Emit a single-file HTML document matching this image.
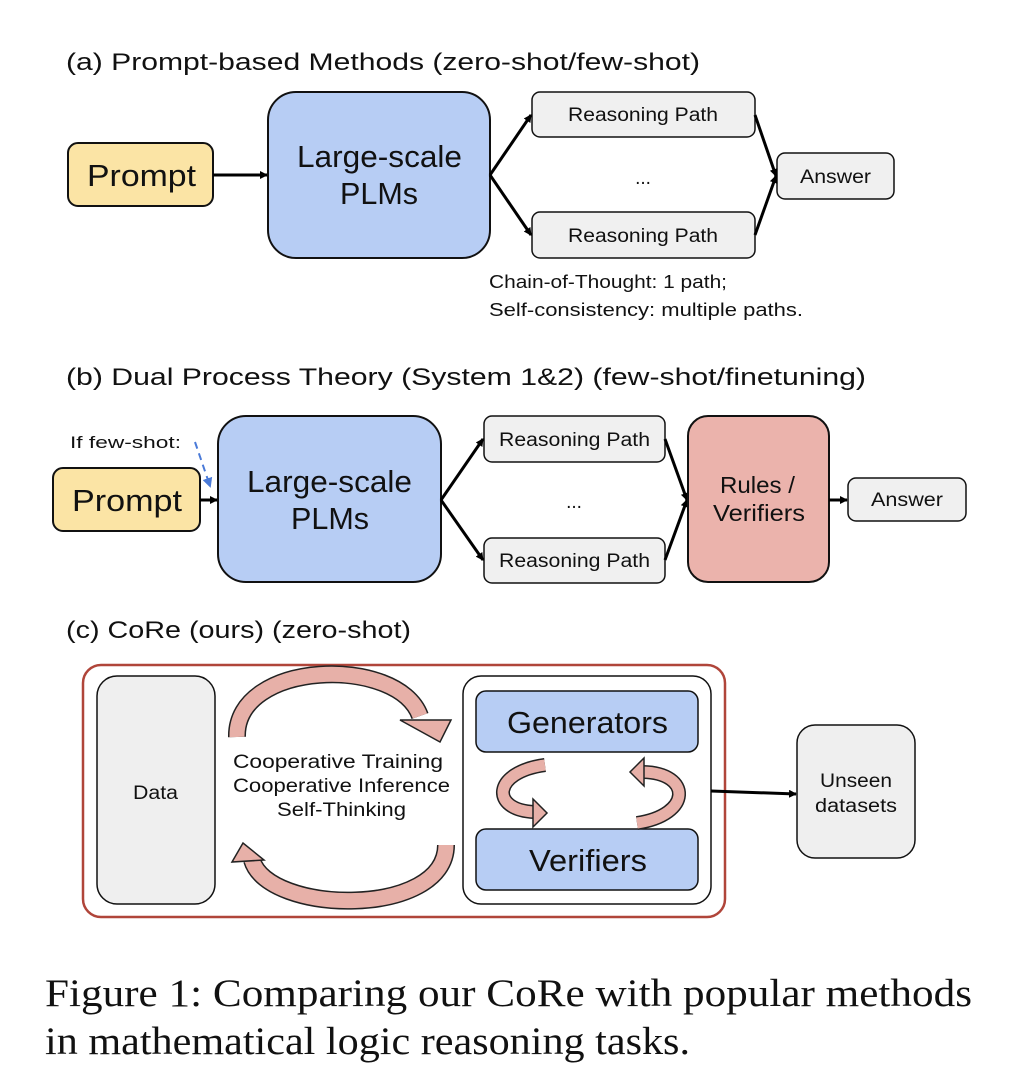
<!DOCTYPE html>
<html><head><meta charset="utf-8"><style>
html,body{margin:0;padding:0;background:#fff;}
svg{display:block;}
text{font-family:"Liberation Sans","DejaVu Sans",sans-serif;fill:#111;}
.s{font-family:"Liberation Serif",serif;}
</style></head><body>
<svg width="1010" height="1092" viewBox="0 0 1010 1092" xmlns="http://www.w3.org/2000/svg">
<defs>
<marker id="ah" markerWidth="8" markerHeight="8" refX="7" refY="4" orient="auto" markerUnits="userSpaceOnUse"><path d="M0,0 L8,4 L0,8 z" fill="#000"/></marker>
<marker id="ab" markerWidth="10" markerHeight="10" refX="8" refY="5" orient="auto" markerUnits="userSpaceOnUse"><path d="M0,0 L10,5 L0,10 z" fill="#4a7ad8"/></marker>
</defs>
<!-- (a) -->
<text x="66" y="70" font-size="24" textLength="634" lengthAdjust="spacingAndGlyphs">(a) Prompt-based Methods (zero-shot/few-shot)</text>
<rect x="68" y="143" width="145" height="63" rx="10" fill="#fbe4a5" stroke="#111" stroke-width="2"/>
<text x="87" y="186" font-size="31" textLength="109" lengthAdjust="spacingAndGlyphs">Prompt</text>
<line x1="213" y1="175" x2="267" y2="175" stroke="#000" stroke-width="3" marker-end="url(#ah)"/>
<rect x="268" y="92" width="222" height="166" rx="28" fill="#b7cdf4" stroke="#111" stroke-width="2"/>
<text x="297" y="167" font-size="31" textLength="165" lengthAdjust="spacingAndGlyphs">Large-scale</text>
<text x="340" y="204" font-size="31" textLength="78" lengthAdjust="spacingAndGlyphs">PLMs</text>
<rect x="532" y="92" width="223" height="45" rx="8" fill="#f0f0f0" stroke="#111" stroke-width="1.5"/>
<text x="568" y="121" font-size="19" textLength="150" lengthAdjust="spacingAndGlyphs">Reasoning Path</text>
<rect x="532" y="212" width="223" height="46" rx="8" fill="#f0f0f0" stroke="#111" stroke-width="1.5"/>
<text x="568" y="242" font-size="19" textLength="150" lengthAdjust="spacingAndGlyphs">Reasoning Path</text>
<text x="643" y="184" font-size="19" text-anchor="middle">...</text>
<rect x="777" y="153" width="117" height="46" rx="8" fill="#f0f0f0" stroke="#111" stroke-width="1.5"/>
<text x="800" y="183" font-size="19" textLength="71" lengthAdjust="spacingAndGlyphs">Answer</text>
<line x1="490" y1="175" x2="531" y2="115" stroke="#000" stroke-width="3" marker-end="url(#ah)"/>
<line x1="490" y1="175" x2="531" y2="235" stroke="#000" stroke-width="3" marker-end="url(#ah)"/>
<line x1="755" y1="115" x2="776" y2="176" stroke="#000" stroke-width="3" marker-end="url(#ah)"/>
<line x1="755" y1="235" x2="776" y2="176" stroke="#000" stroke-width="3" marker-end="url(#ah)"/>
<text x="489" y="288" font-size="18" textLength="238" lengthAdjust="spacingAndGlyphs">Chain-of-Thought: 1 path;</text>
<text x="489" y="316" font-size="18" textLength="314" lengthAdjust="spacingAndGlyphs">Self-consistency: multiple paths.</text>
<!-- (b) -->
<text x="66" y="385" font-size="24" textLength="800" lengthAdjust="spacingAndGlyphs">(b) Dual Process Theory (System 1&amp;2) (few-shot/finetuning)</text>
<text x="70" y="448" font-size="17" textLength="111" lengthAdjust="spacingAndGlyphs">If few-shot:</text>
<line x1="195" y1="442" x2="210" y2="486" stroke="#4a7ad8" stroke-width="2" stroke-dasharray="7,5" marker-end="url(#ab)"/>
<rect x="53" y="468" width="147" height="63" rx="10" fill="#fbe4a5" stroke="#111" stroke-width="2"/>
<text x="72" y="511" font-size="31" textLength="110" lengthAdjust="spacingAndGlyphs">Prompt</text>
<line x1="200" y1="500" x2="217" y2="500" stroke="#000" stroke-width="3" marker-end="url(#ah)"/>
<rect x="218" y="416" width="223" height="166" rx="28" fill="#b7cdf4" stroke="#111" stroke-width="2"/>
<text x="247" y="492" font-size="31" textLength="165" lengthAdjust="spacingAndGlyphs">Large-scale</text>
<text x="291" y="529" font-size="31" textLength="78" lengthAdjust="spacingAndGlyphs">PLMs</text>
<rect x="484" y="416" width="181" height="46" rx="8" fill="#f0f0f0" stroke="#111" stroke-width="1.5"/>
<text x="499" y="446" font-size="19" textLength="151" lengthAdjust="spacingAndGlyphs">Reasoning Path</text>
<rect x="484" y="538" width="181" height="45" rx="8" fill="#f0f0f0" stroke="#111" stroke-width="1.5"/>
<text x="499" y="567" font-size="19" textLength="151" lengthAdjust="spacingAndGlyphs">Reasoning Path</text>
<text x="574" y="508" font-size="19" text-anchor="middle">...</text>
<line x1="441" y1="500" x2="483" y2="439" stroke="#000" stroke-width="3" marker-end="url(#ah)"/>
<line x1="441" y1="500" x2="483" y2="560" stroke="#000" stroke-width="3" marker-end="url(#ah)"/>
<line x1="665" y1="439" x2="687" y2="500" stroke="#000" stroke-width="3" marker-end="url(#ah)"/>
<line x1="665" y1="560" x2="687" y2="500" stroke="#000" stroke-width="3" marker-end="url(#ah)"/>
<rect x="688" y="416" width="141" height="166" rx="20" fill="#ebb3ac" stroke="#111" stroke-width="2"/>
<text x="720" y="493" font-size="23" textLength="75" lengthAdjust="spacingAndGlyphs">Rules /</text>
<text x="713" y="521" font-size="23" textLength="92" lengthAdjust="spacingAndGlyphs">Verifiers</text>
<line x1="829" y1="500" x2="847" y2="500" stroke="#000" stroke-width="3" marker-end="url(#ah)"/>
<rect x="848" y="478" width="118" height="43" rx="8" fill="#f0f0f0" stroke="#111" stroke-width="1.5"/>
<text x="871" y="506" font-size="19" textLength="72" lengthAdjust="spacingAndGlyphs">Answer</text>
<!-- (c) -->
<text x="66" y="638" font-size="24" textLength="345" lengthAdjust="spacingAndGlyphs">(c) CoRe (ours) (zero-shot)</text>
<rect x="83" y="665" width="642" height="252" rx="18" fill="#fff" stroke="#b0453a" stroke-width="2.5"/>
<rect x="97" y="676" width="118" height="228" rx="20" fill="#efefef" stroke="#111" stroke-width="1.5"/>
<text x="133" y="799" font-size="19" textLength="45" lengthAdjust="spacingAndGlyphs">Data</text>
<rect x="463" y="676" width="248" height="228" rx="18" fill="#fff" stroke="#111" stroke-width="1.5"/>
<rect x="476" y="691" width="222" height="61" rx="10" fill="#b7cdf4" stroke="#111" stroke-width="1.5"/>
<text x="507" y="733" font-size="31" textLength="161" lengthAdjust="spacingAndGlyphs">Generators</text>
<rect x="476" y="829" width="222" height="61" rx="10" fill="#b7cdf4" stroke="#111" stroke-width="1.5"/>
<text x="529" y="871" font-size="31" textLength="118" lengthAdjust="spacingAndGlyphs">Verifiers</text>
<text x="233" y="768" font-size="19" textLength="210" lengthAdjust="spacingAndGlyphs">Cooperative Training</text>
<text x="233" y="792" font-size="19" textLength="217" lengthAdjust="spacingAndGlyphs">Cooperative Inference</text>
<text x="277" y="816" font-size="19" textLength="129" lengthAdjust="spacingAndGlyphs">Self-Thinking</text>
<!-- curved arrows -->
<g fill="none" stroke-linecap="butt">
<path d="M237,737 C235,660 398,655 420,716" stroke="#222" stroke-width="18"/>
<path d="M237,737 C235,660 398,655 420,716" stroke="#e7b0a8" stroke-width="15"/>
<path d="M446,845 C446,918 268,915 252,860" stroke="#222" stroke-width="18"/>
<path d="M446,845 C446,918 268,915 252,860" stroke="#e7b0a8" stroke-width="15"/>
<path d="M545,765 C492,772 490,810 534,812" stroke="#222" stroke-width="14"/>
<path d="M545,765 C492,772 490,810 534,812" stroke="#e7b0a8" stroke-width="11"/>
<path d="M637,823 C692,815 692,773 643,772" stroke="#222" stroke-width="14"/>
<path d="M637,823 C692,815 692,773 643,772" stroke="#e7b0a8" stroke-width="11"/>
</g>
<polygon points="400,720 451,720 440,742" fill="#e7b0a8" stroke="#222" stroke-width="1.5"/>
<polygon points="232,862 243,843 264,860" fill="#e7b0a8" stroke="#222" stroke-width="1.5"/>
<polygon points="533,799 547,813 533,827" fill="#e7b0a8" stroke="#222" stroke-width="1.5"/>
<polygon points="644,758 630,772 644,786" fill="#e7b0a8" stroke="#222" stroke-width="1.5"/>
<line x1="711" y1="791" x2="796" y2="794" stroke="#000" stroke-width="3" marker-end="url(#ah)"/>
<rect x="797" y="725" width="118" height="133" rx="18" fill="#efefef" stroke="#111" stroke-width="1.5"/>
<text x="820" y="787" font-size="19" textLength="72" lengthAdjust="spacingAndGlyphs">Unseen</text>
<text x="815" y="812" font-size="19" textLength="82" lengthAdjust="spacingAndGlyphs">datasets</text>
<!-- caption -->
<text class="s" x="45" y="1006" font-size="39" textLength="927" lengthAdjust="spacingAndGlyphs">Figure 1: Comparing our CoRe with popular methods</text>
<text class="s" x="45" y="1054" font-size="39" textLength="645" lengthAdjust="spacingAndGlyphs">in mathematical logic reasoning tasks.</text>
</svg>
</body></html>
